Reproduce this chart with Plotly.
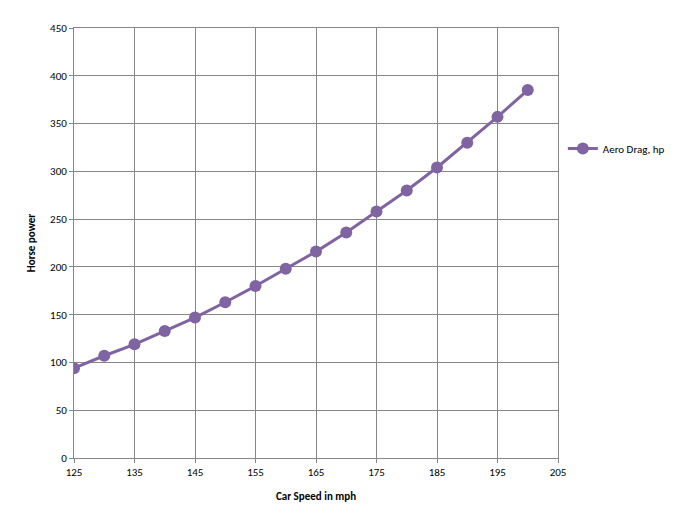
import plotly.graph_objects as go

speed = [125,130,135,140,145,150,155,160,165,170,175,180,185,190,195,200]
hp = [94,107,119,133,147,163,180,198,216,236,258,280,304,330,357,385]

fig = go.Figure(go.Scatter(x=speed, y=hp, mode="lines+markers", name="Aero Drag, hp",
    line=dict(color="#8064A2", width=3), marker=dict(color="#8064A2", size=12)))
ax = dict(showgrid=True, gridcolor="#878787", gridwidth=1, showline=True, linecolor="#878787",
          mirror=True, ticks="outside", tickcolor="#878787", ticklen=4, zeroline=False,
          automargin=False, tickfont=dict(size=11, color="black"))
fig.update_layout(
    width=674, height=524, paper_bgcolor="white", plot_bgcolor="white",
    margin=dict(l=66, r=100, t=20, b=74),
    font=dict(family="Carlito, Liberation Sans, sans-serif", size=11, color="black"),
    xaxis=dict(range=[125,205], tick0=125, dtick=10, title=dict(text="<b>Car Speed in mph</b>", font=dict(size=11), standoff=14), **ax),
    yaxis=dict(range=[0,450], dtick=50, title=dict(text="<b>Horse power</b>", font=dict(size=11), standoff=12), **ax),
    legend=dict(x=1.01, y=0.72, xanchor="left", yanchor="middle", font=dict(size=11)),
    showlegend=True,
)
fig.write_html("out.html")
